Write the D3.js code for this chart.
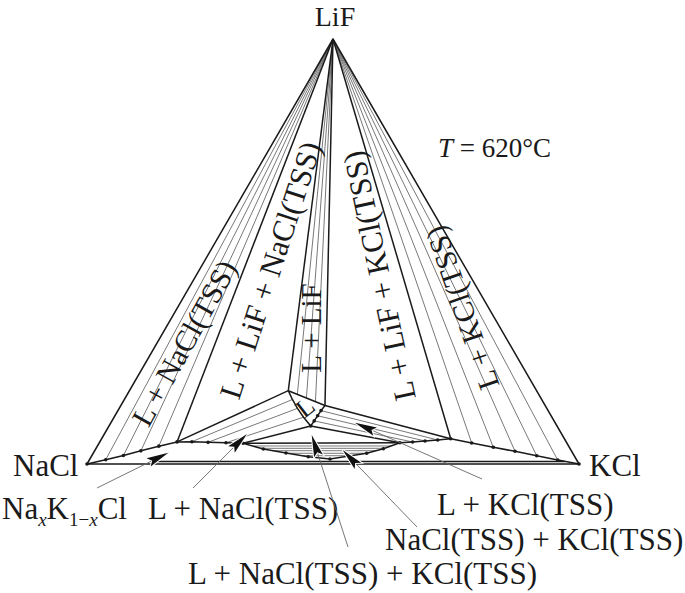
<!DOCTYPE html>
<html>
<head>
<meta charset="utf-8">
<script src="https://cdn.jsdelivr.net/npm/d3@7"></script>
<style>
  body { margin: 0; background: #fff; }
  svg text { font-family: "Liberation Serif", "Times New Roman", serif; fill: #1a1a1a; }
  .bold { fill: none; stroke: #1a1a1a; stroke-width: 1.5; stroke-linejoin: round; }
  .tie { fill: none; stroke: #555; stroke-width: 0.8; }
  .pointer { stroke: #666; stroke-width: 0.9; }
</style>
</head>
<body>
<div id="chart"></div>
<script>
// compositions are [xLiF, xKCl], NaCl is the rest
var lif = [1, 0], nacl = [0, 0], kcl = [0, 1];

// corners of the liquid region
var liqB = [0.1725, 0.3229], liqC = [0.1376, 0.4149], liqD = [0.0894, 0.41];

// NaCl(TSS) solidus, NaCl -> A -> E
var naclSolidus = [[0, 0], [0.010, 0.033], [0.020, 0.064], [0.031, 0.094], [0.042, 0.125],
  [0.052, 0.157], [0.0525, 0.187], [0.051, 0.2205], [0.050, 0.2575], [0.0487, 0.2927]];
// KCl(TSS) solidus, F -> G -> KCl
var kclSolidus = [[0.0501, 0.611], [0.0518, 0.636], [0.0541, 0.66], [0.0565, 0.6846],
  [0.0595, 0.7095], [0.0494, 0.7572], [0.0393, 0.8062], [0.0299, 0.855], [0.0195, 0.9043],
  [0.0094, 0.952], [0, 1]];
// lower edge of the NaCl(TSS) + KCl(TSS) gap, E -> F
var gapCurve = [[0.0487, 0.2927], [0.0353, 0.3407], [0.0259, 0.3915], [0.0172, 0.4412],
  [0.0118, 0.488], [0.0252, 0.5559], [0.036, 0.5842], [0.0501, 0.611]];
// liquidus edges of L
var liqNacl = [liqB, [0.1518, 0.3416], [0.1309, 0.3623], [0.1101, 0.3851], liqD];
var liqKcl = [liqC, [0.1256, 0.4129], [0.1135, 0.4119], [0.1014, 0.4111], liqD];
var liqLif = [liqB, [0.1638, 0.3456], [0.1551, 0.3684], [0.1464, 0.3911], liqC];

// tie lines
var tiesNaclLiq = [[[0.0525, 0.187], [0.1518, 0.3416]], [[0.051, 0.2205], [0.1309, 0.3623]],
  [[0.050, 0.2575], [0.1101, 0.3851]]];
var tiesKclLiq = [[[0.0518, 0.636], [0.1014, 0.4111]], [[0.0541, 0.66], [0.1135, 0.4119]],
  [[0.0565, 0.6846], [0.1256, 0.4129]]];
// horizontal ties in the gap: [xLiF, KCl left, KCl right]
var gapTies = [[0.0424, 0.3154, 0.5963], [0.0369, 0.3348, 0.586], [0.0313, 0.3621, 0.5719],
  [0.0252, 0.3955, 0.5559], [0.0195, 0.4278, 0.5272]];
// upper edge of the thin Na(x)K(1-x)Cl band along the base
var ssBand = [[0.006, 0.1393], [0.006, 0.9685]];

// arrow tips (compositions)
var arrowTips = [[0.0266, 0.152], [0.0706, 0.2899], [0.0682, 0.4226], [0.0329, 0.5032], [0.0972, 0.4961]];
var arrowTails = [[97, 488], [193, 488], [348, 547], [417, 527], [482, 479]];

var width = 685, height = 593;

var x = d3.scaleLinear().domain([0, 1]).range([87, 579]);
var y = d3.scaleLinear().domain([0, 1]).range([464, 39]);
function pt(c) { return [x(c[1] + c[0] / 2), y(c[0])]; }

var line = d3.line().x((d) => pt(d)[0]).y((d) => pt(d)[1]);

var svg = d3.select("#chart").append("svg")
  .attr("width", width).attr("height", height);

var ptA = naclSolidus[5], ptE = naclSolidus[9], ptF = kclSolidus[0], ptG = kclSolidus[4];

// Thin tie lines
var ties = [];
naclSolidus.slice(1, 5).forEach((d) => ties.push([lif, d]));
kclSolidus.slice(5, 10).forEach((d) => ties.push([lif, d]));
liqLif.slice(1, 4).forEach((d) => ties.push([lif, d]));
tiesNaclLiq.forEach((d) => ties.push(d));
tiesKclLiq.forEach((d) => ties.push(d));
gapTies.forEach((d) => ties.push([[d[0], d[1]], [d[0], d[2]]]));

svg.selectAll(".tie").data(ties).enter()
  .append("path").attr("class", "tie").attr("d", line);

// Phase boundaries
var bold = [
  [nacl, kcl, lif, nacl],
  [lif, ptA], [lif, liqB], [lif, liqC], [lif, ptG],
  [ptA, liqB], [ptG, liqC], [ptE, liqD], [ptF, liqD],
  naclSolidus, kclSolidus, gapCurve, [ptE, ptF],
  liqNacl, liqKcl, [liqB, liqC], ssBand
];
svg.selectAll(".bold").data(bold).enter()
  .append("path").attr("class", "bold").attr("d", line);

// Dots on the solidus curves
var dots = naclSolidus.concat(kclSolidus, gapCurve.slice(1, 7), liqKcl.slice(1));
svg.selectAll(".dot").data(dots).enter()
  .append("circle").attr("class", "dot")
  .attr("cx", (d) => pt(d)[0]).attr("cy", (d) => pt(d)[1])
  .attr("r", 1.8).attr("fill", "#1a1a1a");

// Rotated region labels
var regionLabels = [
  { text: "L + NaCl(TSS)", x: 184, y: 343, angle: -61, size: 30 },
  { text: "L + LiF + NaCl(TSS)", x: 270, y: 270, angle: -72, size: 31 },
  { text: "L + LiF", x: 311, y: 328, angle: -90, size: 29 },
  { text: "L + LiF + KCl(TSS)", x: 379, y: 276, angle: -102, size: 31 },
  { text: "L + KCl(TSS)", x: 462, y: 308, angle: -109, size: 30 },
  { text: "L", x: 305, y: 407, angle: -38, size: 26 }
];
svg.selectAll(".region-label").data(regionLabels).enter()
  .append("text").attr("class", "region-label")
  .attr("transform", (d) => "translate(" + d.x + "," + d.y + ") rotate(" + d.angle + ")")
  .attr("text-anchor", "middle")
  .attr("dy", "0.35em")
  .style("font-size", (d) => d.size + "px")
  .text((d) => d.text);

// Horizontal labels
var labels = [
  { text: "LiF", x: 335, y: 26, anchor: "middle", size: 28 },
  { text: "NaCl", x: 13, y: 476, anchor: "start", size: 31 },
  { text: "KCl", x: 589, y: 476, anchor: "start", size: 31 },
  { text: "L + NaCl(TSS)", x: 148, y: 519, anchor: "start", size: 31 },
  { text: "L + KCl(TSS)", x: 437, y: 515, anchor: "start", size: 31 },
  { text: "NaCl(TSS) + KCl(TSS)", x: 385, y: 550, anchor: "start", size: 31 },
  { text: "L + NaCl(TSS) + KCl(TSS)", x: 188, y: 584, anchor: "start", size: 31 }
];
svg.selectAll(".label").data(labels).enter()
  .append("text").attr("class", "label")
  .attr("x", (d) => d.x).attr("y", (d) => d.y)
  .attr("text-anchor", (d) => d.anchor)
  .style("font-size", (d) => d.size + "px")
  .text((d) => d.text);

// Temperature
var tLabel = svg.append("text").attr("x", 438).attr("y", 157).style("font-size", "27px");
tLabel.append("tspan").style("font-style", "italic").text("T");
tLabel.append("tspan").text(" = 620°C");

// Na(x)K(1-x)Cl
var ss = svg.append("text").attr("x", 2).attr("y", 519).style("font-size", "31px");
ss.append("tspan").text("Na");
ss.append("tspan").attr("dy", 7).style("font-size", "19px").style("font-style", "italic").text("x");
ss.append("tspan").attr("dy", -7).text("K");
ss.append("tspan").attr("dy", 7).style("font-size", "19px").text("1−");
ss.append("tspan").style("font-size", "19px").style("font-style", "italic").text("x");
ss.append("tspan").attr("dy", -7).text("Cl");

// Pointer arrows
var arrows = arrowTips.map((d, i) => ({ tip: pt(d), tail: arrowTails[i] }));
svg.selectAll(".pointer").data(arrows).enter()
  .append("line").attr("class", "pointer")
  .attr("x1", (d) => d.tail[0]).attr("y1", (d) => d.tail[1])
  .attr("x2", (d) => d.tip[0]).attr("y2", (d) => d.tip[1]);

svg.selectAll(".head").data(arrows).enter()
  .append("path").attr("class", "head")
  .attr("d", function (d) {
    var dx = d.tip[0] - d.tail[0], dy = d.tip[1] - d.tail[1];
    var len = Math.sqrt(dx * dx + dy * dy), ux = dx / len, uy = dy / len;
    var bx = d.tip[0] - ux * 22, by = d.tip[1] - uy * 22;
    return "M" + d.tip[0] + "," + d.tip[1] +
      "L" + (bx - uy * 4.6) + "," + (by + ux * 4.6) +
      "L" + (bx + ux * 4) + "," + (by + uy * 4) +
      "L" + (bx + uy * 4.6) + "," + (by - ux * 4.6) + "Z";
  })
  .attr("fill", "#111")
  .attr("stroke", "#fff")
  .attr("stroke-width", 2)
  .style("paint-order", "stroke");
</script>
</body>
</html>
